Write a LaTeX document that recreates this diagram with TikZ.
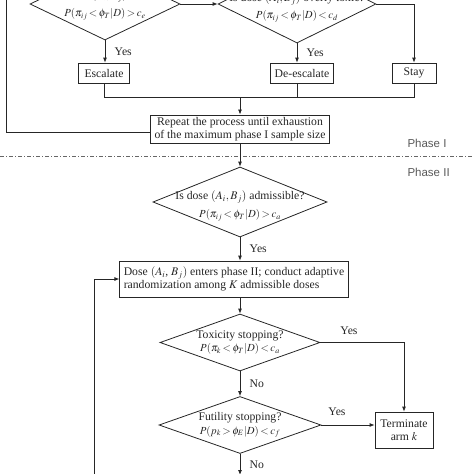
\documentclass[tikz,border=0pt]{standalone}
\usepackage{mathptmx}
\usepackage[no-math]{fontspec}
\setmainfont{Liberation Serif}
\newfontfamily\phasefont{Liberation Sans}
\usetikzlibrary{arrows.meta, shapes.geometric}

\newcommand{\cond}[1]{{\fontsize{10.8}{12}\selectfont$\thickmuskip=2.5mu #1$}}

\tikzset{
  box/.style={draw, line width=0.8pt, minimum height=20pt, inner xsep=4pt, inner ysep=2pt, align=center},
  decision/.style={diamond, draw, line width=0.8pt, inner sep=0pt},
  dtext/.style={inner sep=0pt, align=center},
  flow/.style={line width=0.8pt, -{Latex[length=5pt,width=4pt]}},
  link/.style={line width=0.8pt},
  answer/.style={inner sep=0pt},
  phase/.style={font=\phasefont\fontsize{11.5}{13}\selectfont, text=black!65, anchor=west},
  sepline/.style={line width=0.6pt, black!60, dash pattern=on 4pt off 2pt on 1pt off 2pt},
}

\begin{document}
\begin{tikzpicture}[x=1pt, y=-1pt, font=\fontsize{11.7}{13.5}\selectfont, color=black!85]
            \useasboundingbox (0,0) rectangle (474,474);
            \clip (0,0) rectangle (474,474);

            % phase I
            \node[decision, minimum width=150pt, minimum height=72pt] (safe) at (105,4) {};
            \node[dtext] (safetxt) at (105,5) {Is dose $(A_i,B_j)$ safe?\\[4pt]\cond{P(\pi_{ij}<\phi_T|D)>c_e}};
            \node[decision, minimum width=158pt, minimum height=78pt] (toxic) at (297,4) {};
            \node[dtext] (toxictxt) at (297,7.5) {Is dose $(A_i,B_j)$ overly toxic?\\[4pt]\cond{P(\pi_{ij}<\phi_T|D)<c_d}};

            \node[box, minimum width=51pt] (esc) at (104,73) {Escalate};
            \node[box, minimum width=61pt] (desc) at (302,73) {De-escalate};
            \node[box, minimum width=44pt] (stay) at (414,73) {Stay};

            \draw[flow] (safe.east) -- (toxic.west);
            \node[answer] (no1) at (199,-5) {No};
            \draw[flow] (toxic.east) -| (stay.north);
            \node[answer] (no2) at (390,-5) {No};
            \draw[flow] (safe.south) -- node[right=6pt] (yes1) {Yes} (safe.south |- esc.north);
            \draw[flow] (toxic.south) -- node[right=6pt] (yes2) {Yes} (toxic.south |- desc.north);

            \node[box, minimum width=174pt, minimum height=28pt] (rep) at (240,129) {Repeat the process until exhaustion\\of the maximum phase I sample size};

            \coordinate (merge) at (240,97);
            \draw[link] (esc.south) -- (esc.south |- merge) -- (stay.south |- merge) -- (stay.south);
            \draw[link] (toxic.south |- desc.south) -- (toxic.south |- merge);
            \draw[flow] (merge) -- (rep.north);

            \coordinate (loopTop) at (6,-20);
            \draw[link] ([yshift=-3pt]rep.west) -| (loopTop);

            % phase separator
            \coordinate (sepL) at (0,156);
            \coordinate (sepR) at (474,156);
            \draw[sepline] (sepL) -- (sepR);
            \node[phase] (ph1) at (404,143) {Phase I};
            \node[phase] (ph2) at (404,172) {Phase II};

            % phase II
            \node[decision, minimum width=174pt, minimum height=70pt] (adm) at (240,202) {};
            \node[dtext] (admtxt) at (240,206) {Is dose $(A_i,B_j)$ admissible?\\[4pt]\cond{P(\pi_{ij}<\phi_T|D)>c_a}};
            \draw[flow] (rep.south) -- (adm.north);

            \node[box, minimum width=222pt, minimum height=36pt, align=left] (dose) at (234,279) {Dose $(A_i$, $B_j)$ enters phase II; conduct adaptive\\randomization among $K$ admissible doses};
            \draw[flow] (adm.south) -- node[right=6pt] (yes3) {Yes} (adm.south |- dose.north);

            \node[decision, minimum width=160pt, minimum height=57pt] (toxstop) at (240,342.5) {};
            \node[dtext] (toxstoptxt) at (240,342.5) {Toxicity stopping?\\\cond{P(\pi_k<\phi_T|D)<c_a}};
            \draw[flow] (toxstop.north |- dose.south) -- (toxstop.north);

            \node[decision, minimum width=162pt, minimum height=57pt] (fut) at (240,425) {};
            \node[dtext] (futtxt) at (240,425) {Futility stopping?\\\cond{P(p_k>\phi_E|D)<c_f}};

            \node[box, minimum width=58pt, minimum height=36pt] (term) at (404,430) {Terminate\\arm $k$};

            \draw[flow] (toxstop.east) -| (term.north);
            \node[answer] (yes4) at (349,331) {Yes};
            \draw[flow] (toxstop.south) -- node[right=6pt] (no3) {No} (fut.north);
            \draw[flow] (fut.east) -- (fut.east -| term.west);
            \node[answer] (yes5) at (337,412) {Yes};

            \coordinate (next) at (240,475);
            \draw[flow] (fut.south) -- node[right=6pt] (no4) {No} (next);

            \coordinate (loopBot) at (94,480);
            \draw[flow] (loopBot) |- (dose.west);
\end{tikzpicture}
\end{document}
